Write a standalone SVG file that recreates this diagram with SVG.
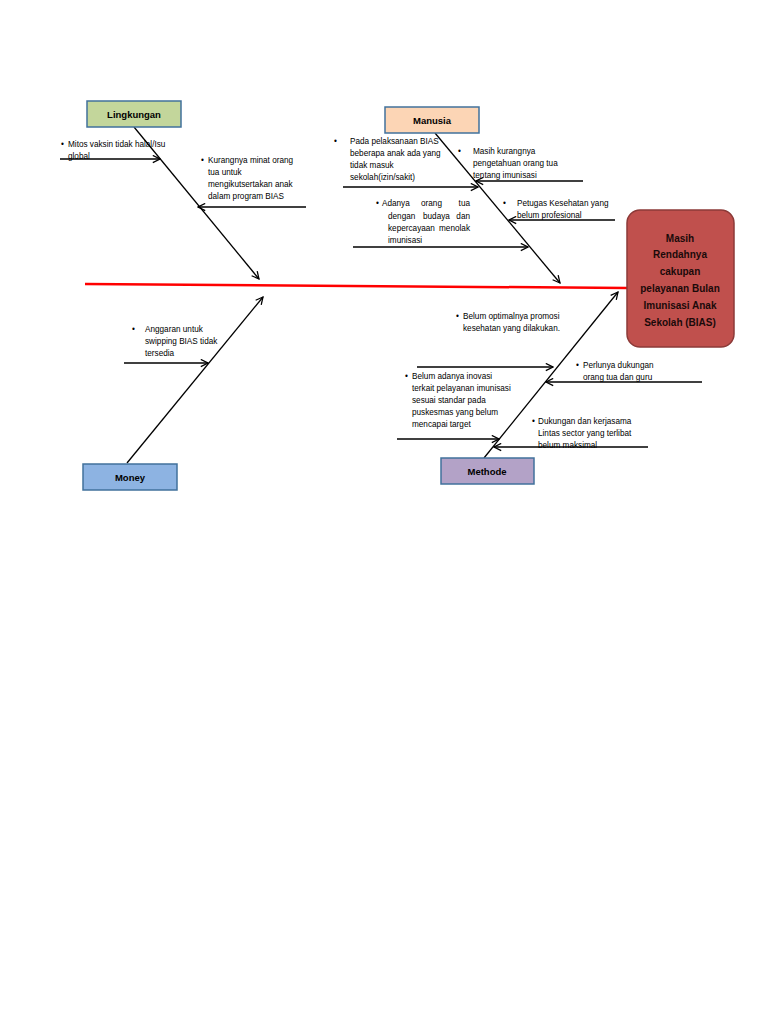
<svg xmlns="http://www.w3.org/2000/svg" width="768" height="1024" viewBox="0 0 768 1024">
<style>
  .t{font-family:"Liberation Sans",Arial,sans-serif;font-size:8.2px;fill:#000}
  .e{text-anchor:end}
  .b{font-family:"Liberation Sans",Arial,sans-serif;font-size:9.5px;font-weight:bold;fill:#000;text-anchor:middle}
  .h{font-family:"Liberation Sans",Arial,sans-serif;font-size:10px;font-weight:bold;fill:#1a0a0a;text-anchor:middle}
  .ln{stroke:#000;stroke-width:1.3;fill:none}
  .box{stroke:#41719C;stroke-width:1.5}
</style>
<defs>
  <marker id="arr" viewBox="0 0 10 10" refX="9" refY="5" markerWidth="9" markerHeight="9" orient="auto" markerUnits="userSpaceOnUse">
    <path d="M1,1 L9,5 L1,9" fill="none" stroke="#000" stroke-width="1.4"/>
  </marker>
</defs>
<rect width="768" height="1024" fill="#fff"/>

<g id="connectors">
  <line x1="85" y1="284" x2="627" y2="288" stroke="#FF0000" stroke-width="2.5"/>
  <line class="ln" x1="134" y1="127" x2="259" y2="279" marker-end="url(#arr)"/>
  <line class="ln" x1="435" y1="133" x2="560" y2="283" marker-end="url(#arr)"/>
  <line class="ln" x1="127" y1="463" x2="263" y2="297" marker-end="url(#arr)"/>
  <line class="ln" x1="484" y1="458" x2="618" y2="292" marker-end="url(#arr)"/>
  <line class="ln" x1="60" y1="159" x2="160" y2="159" marker-end="url(#arr)"/>
  <line class="ln" x1="306" y1="207" x2="198" y2="207" marker-end="url(#arr)"/>
  <line class="ln" x1="343" y1="187" x2="478" y2="187" marker-end="url(#arr)"/>
  <line class="ln" x1="583" y1="181" x2="476" y2="181" marker-end="url(#arr)"/>
  <line class="ln" x1="353" y1="247" x2="528" y2="247" marker-end="url(#arr)"/>
  <line class="ln" x1="615" y1="220" x2="509" y2="220" marker-end="url(#arr)"/>
  <line class="ln" x1="124" y1="363" x2="208" y2="363" marker-end="url(#arr)"/>
  <line class="ln" x1="417" y1="367" x2="553" y2="367" marker-end="url(#arr)"/>
  <line class="ln" x1="702" y1="382" x2="546" y2="382" marker-end="url(#arr)"/>
  <line class="ln" x1="397" y1="439" x2="499" y2="439" marker-end="url(#arr)"/>
  <line class="ln" x1="648" y1="447" x2="494" y2="447" marker-end="url(#arr)"/>
</g>

<g id="head">
  <rect x="627" y="210" width="107" height="137" rx="13" fill="#C0504D" stroke="#8C3A38" stroke-width="1.5"/>
  <text class="h" x="680" y="242">Masih</text>
  <text class="h" x="680" y="258">Rendahnya</text>
  <text class="h" x="680" y="275">cakupan</text>
  <text class="h" x="680" y="292">pelayanan Bulan</text>
  <text class="h" x="680" y="309">Imunisasi Anak</text>
  <text class="h" x="680" y="326">Sekolah (BIAS)</text>
</g>

<g id="lingkungan">
  <rect class="box" x="87" y="101" width="94" height="26" fill="#C3D69B"/>
  <text class="b" x="134" y="118">Lingkungan</text>
</g>

<g id="manusia">
  <rect class="box" x="385" y="107" width="94" height="26" fill="#FCD5B5"/>
  <text class="b" x="432" y="124">Manusia</text>
</g>

<g id="money">
  <rect class="box" x="83" y="464" width="94" height="26" fill="#8DB3E2"/>
  <text class="b" x="130" y="481">Money</text>
</g>

<g id="methode">
  <rect class="box" x="441" y="458" width="93" height="26" fill="#B3A2C7"/>
  <text class="b" x="487" y="475">Methode</text>
</g>

<g id="cause-mitos">
  <text class="t" x="61" y="147">•</text>
  <text class="t" x="68" y="147">Mitos vaksin tidak halal/Isu</text>
  <text class="t" x="68" y="159">global</text>
</g>
<g id="cause-kurangnya-minat">
  <text class="t" x="201" y="163">•</text>
  <text class="t" x="208" y="163">Kurangnya minat orang</text>
  <text class="t" x="208" y="175">tua untuk</text>
  <text class="t" x="208" y="187">mengikutsertakan anak</text>
  <text class="t" x="208" y="199">dalam program BIAS</text>
</g>
<g id="cause-pada-pelaksanaan">
  <text class="t" x="334" y="144">•</text>
  <text class="t" x="350" y="144">Pada pelaksanaan BIAS</text>
  <text class="t" x="350" y="156">beberapa anak ada yang</text>
  <text class="t" x="350" y="168">tidak masuk</text>
  <text class="t" x="350" y="180">sekolah(izin/sakit)</text>
</g>
<g id="cause-masih-kurangnya">
  <text class="t" x="458" y="154">•</text>
  <text class="t" x="473" y="154">Masih kurangnya</text>
  <text class="t" x="473" y="166">pengetahuan orang tua</text>
  <text class="t" x="473" y="178">tentang imunisasi</text>
</g>
<g id="cause-adanya">
  <text class="t" x="376" y="206">•</text>
  <text class="t" x="382" y="206">Adanya</text>
  <text class="t" x="421" y="206">orang</text>
  <text class="t e" x="470" y="206">tua</text>
  <text class="t" x="388" y="219">dengan</text>
  <text class="t" x="423" y="219">budaya</text>
  <text class="t e" x="470" y="219">dan</text>
  <text class="t" x="388" y="231">kepercayaan</text>
  <text class="t e" x="470" y="231">menolak</text>
  <text class="t" x="388" y="243">imunisasi</text>
</g>
<g id="cause-petugas">
  <text class="t" x="503" y="206">•</text>
  <text class="t" x="517" y="206">Petugas Kesehatan yang</text>
  <text class="t" x="517" y="218">belum profesional</text>
</g>
<g id="cause-anggaran">
  <text class="t" x="132" y="332">•</text>
  <text class="t" x="145" y="332">Anggaran untuk</text>
  <text class="t" x="145" y="344">swipping BIAS tidak</text>
  <text class="t" x="145" y="356">tersedia</text>
</g>
<g id="cause-belum-optimal">
  <text class="t" x="456" y="319">•</text>
  <text class="t" x="463" y="319">Belum optimalnya promosi</text>
  <text class="t" x="463" y="331">kesehatan yang dilakukan.</text>
</g>
<g id="cause-perlunya">
  <text class="t" x="576" y="368">•</text>
  <text class="t" x="583" y="368">Perlunya dukungan</text>
  <text class="t" x="583" y="380">orang tua dan guru</text>
</g>
<g id="cause-belum-inovasi">
  <text class="t" x="405" y="379">•</text>
  <text class="t" x="412" y="379">Belum adanya inovasi</text>
  <text class="t" x="412" y="391">terkait pelayanan imunisasi</text>
  <text class="t" x="412" y="403">sesuai standar pada</text>
  <text class="t" x="412" y="415">puskesmas yang belum</text>
  <text class="t" x="412" y="427">mencapai target</text>
</g>
<g id="cause-dukungan">
  <text class="t" x="532" y="424">•</text>
  <text class="t" x="538" y="424">Dukungan dan kerjasama</text>
  <text class="t" x="538" y="436">Lintas sector yang terlibat</text>
  <text class="t" x="538" y="448">belum maksimal</text>
</g>
</svg>
